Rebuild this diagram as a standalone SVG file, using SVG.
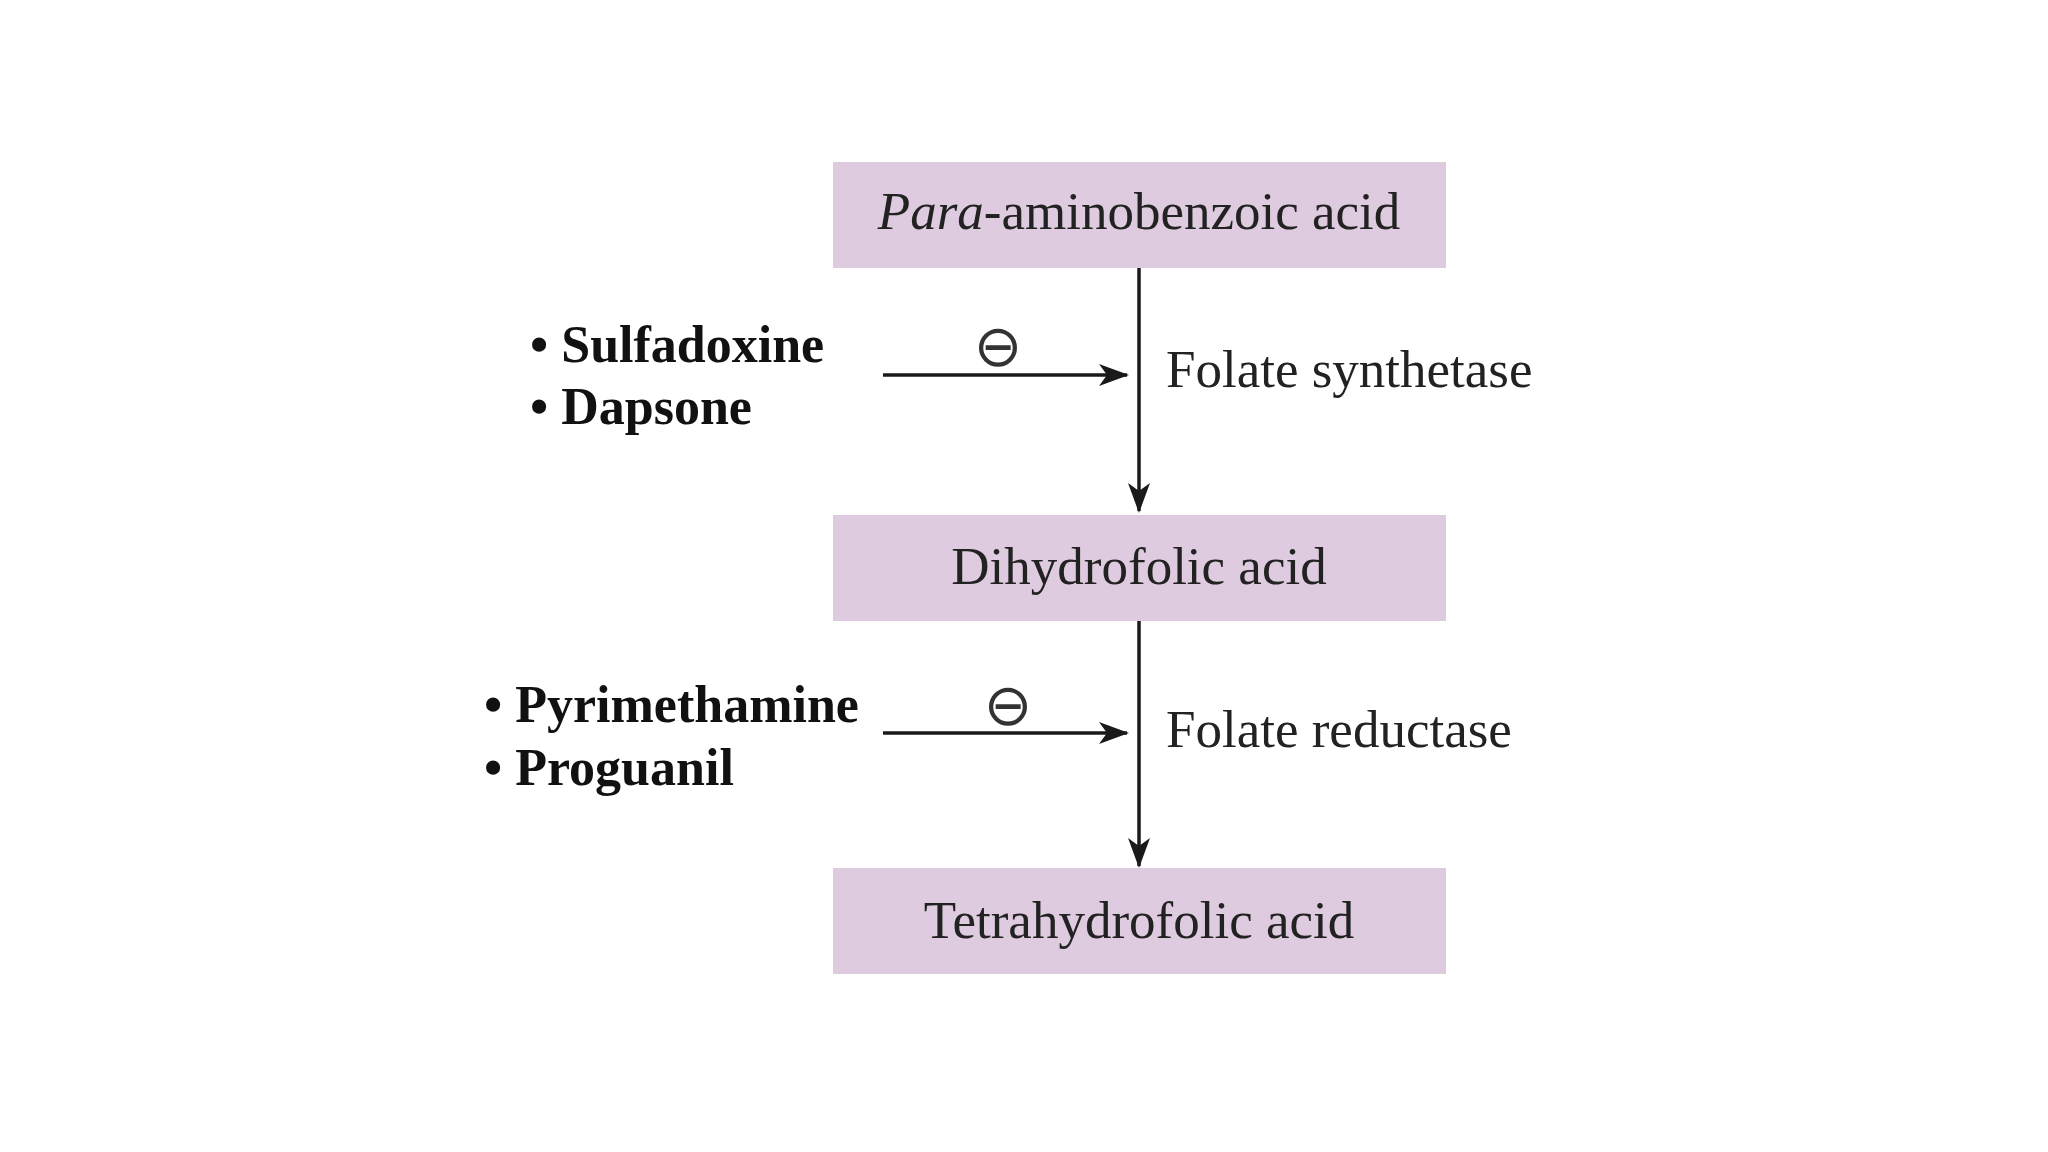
<svg xmlns="http://www.w3.org/2000/svg" width="2048" height="1152" viewBox="0 0 2048 1152">
<style>
.box{fill:#dfcbdf}
.lbl{font-family:"Liberation Serif","Times New Roman",serif;font-size:53px;fill:#222;text-anchor:middle}
.enz{font-family:"Liberation Serif","Times New Roman",serif;font-size:53px;fill:#222}
.drug{font-family:"Liberation Serif","Times New Roman",serif;font-size:52px;font-weight:bold;fill:#111}
.inh{font-family:"DejaVu Sans",sans-serif;font-size:58px;fill:#333;text-anchor:middle}
.ln{stroke:#1a1a1a;stroke-width:3.5;fill:none}
</style>
<defs>
<marker id="ah" markerWidth="30" markerHeight="22" refX="28" refY="11" orient="auto" markerUnits="userSpaceOnUse">
<path d="M0,0 L30,11 L0,22 L8,11 Z" fill="#1a1a1a"/>
</marker>
</defs>
<rect width="2048" height="1152" fill="#ffffff"/>
<g id="node-paba">
<rect class="box" x="833" y="162" width="613" height="106"/>
<text class="lbl" x="1139" y="229"><tspan font-style="italic">Para</tspan>-aminobenzoic acid</text>
</g>
<g id="node-dhf">
<rect class="box" x="833" y="515" width="613" height="106"/>
<text class="lbl" x="1139" y="584">Dihydrofolic acid</text>
</g>
<g id="node-thf">
<rect class="box" x="833" y="868" width="613" height="106"/>
<text class="lbl" x="1139" y="938">Tetrahydrofolic acid</text>
</g>
<g id="drugs-1">
<text class="drug" x="530" y="362">• Sulfadoxine</text>
<text class="drug" x="530" y="424">• Dapsone</text>
</g>
<g id="drugs-2">
<text class="drug" x="484" y="722">• Pyrimethamine</text>
<text class="drug" x="484" y="785">• Proguanil</text>
</g>
<g id="enzymes">
<text class="enz" x="1166" y="387">Folate synthetase</text>
<text class="enz" x="1166" y="747">Folate reductase</text>
</g>
<g id="connectors">
<line class="ln" x1="1139" y1="268" x2="1139" y2="511" marker-end="url(#ah)"/>
<line class="ln" x1="1139" y1="621" x2="1139" y2="866" marker-end="url(#ah)"/>
<line class="ln" x1="883" y1="375" x2="1127" y2="375" marker-end="url(#ah)"/>
<line class="ln" x1="883" y1="733" x2="1127" y2="733" marker-end="url(#ah)"/>
<text class="inh" x="998" y="366">⊖</text>
<text class="inh" x="1008" y="725">⊖</text>
</g>
</svg>
